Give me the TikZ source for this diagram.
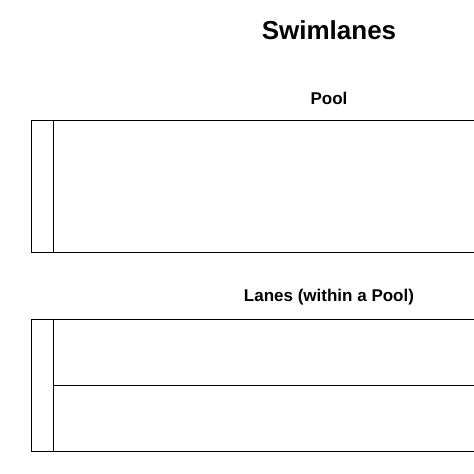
\documentclass[tikz,border=0pt]{standalone}
\usepackage{fontspec}
\setmainfont{Liberation Sans}
\begin{document}
\begin{tikzpicture}[x=1pt,y=-1pt,
  lbl/.style={font=\bfseries\fontsize{17}{20}\selectfont, inner sep=0pt},
  ln/.style={line width=0.8pt, black}]
\useasboundingbox (0,0) rectangle (474,474);
\node[font=\bfseries\fontsize{26}{30}\selectfont, inner sep=0pt] (title) at (329,30) {Swimlanes};
\node[lbl] (pool) at (329,98) {Pool};
\node[lbl] (lanes) at (329,297) {Lanes (within a Pool)};
% pool
\coordinate (p1) at (31,120);
\coordinate (p2) at (476,252);
\draw[ln] (476,120) -- (31,120) -- (31,252) -- (476,252);
\draw[ln] (53,120) -- (53,252);
% lanes
\draw[ln] (476,319) -- (31,319) -- (31,451) -- (476,451);
\draw[ln] (53,319) -- (53,451);
\draw[ln] (53,385) -- (476,385);
\end{tikzpicture}
\end{document}
